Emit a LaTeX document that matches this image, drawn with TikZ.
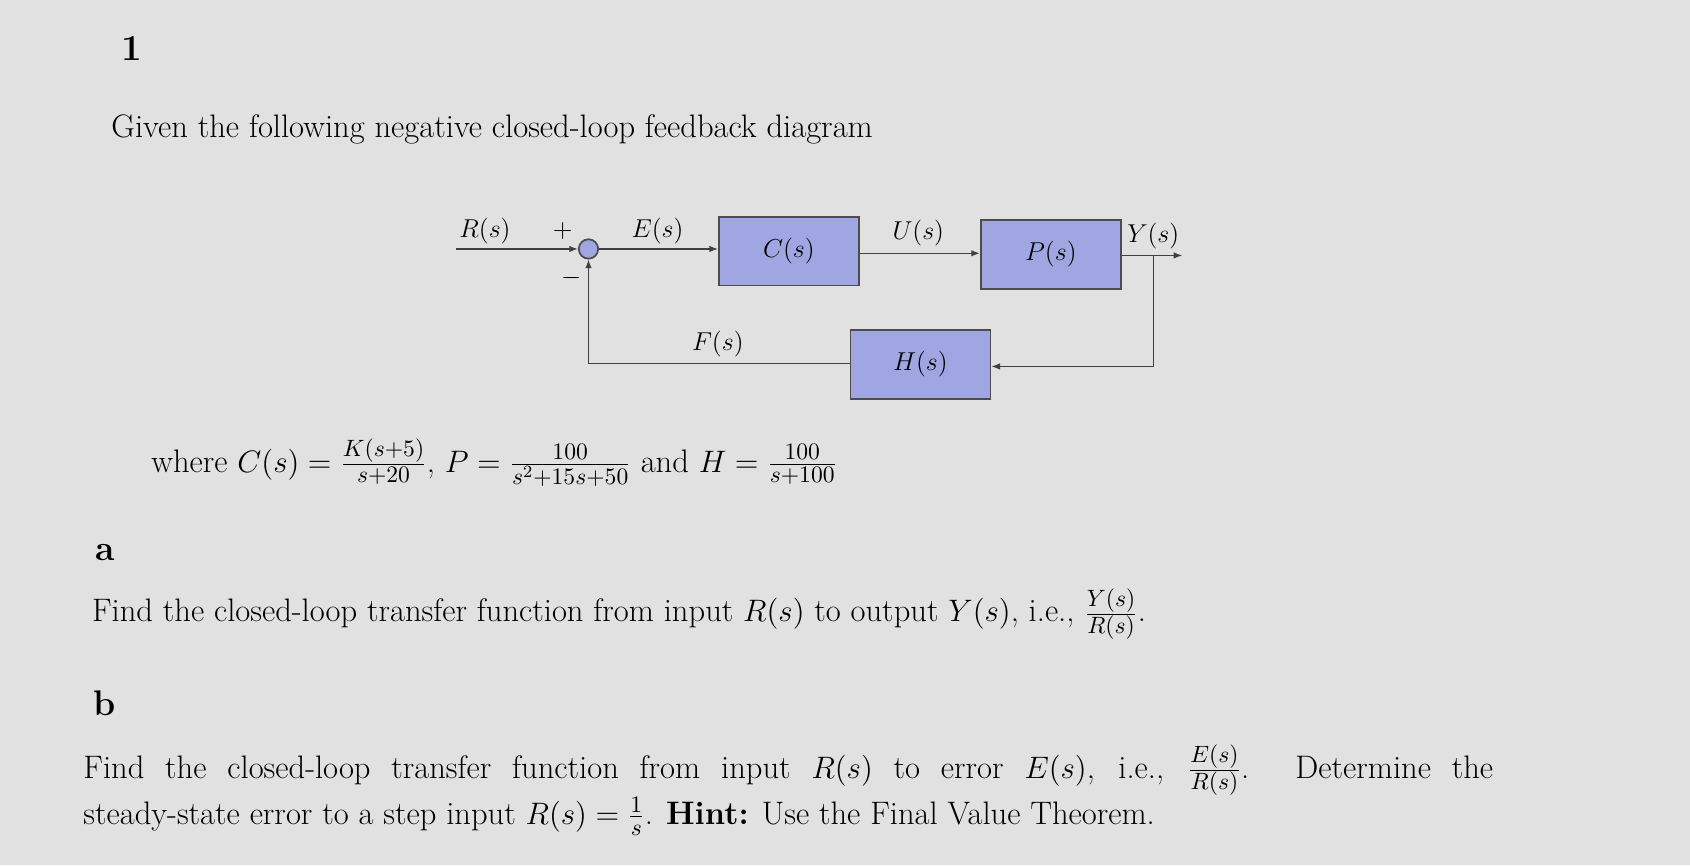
\documentclass[tikz,border=0pt]{standalone}
\usepackage{amsmath}
\usetikzlibrary{arrows.meta}
\definecolor{bgc}{RGB}{224,225,224}
\definecolor{boxc}{RGB}{160,166,226}
\begin{document}
\begin{tikzpicture}[x=0.5pt,y=-0.5pt,
  blk/.style={draw=black!70,fill=boxc,thick,minimum width=65pt,minimum height=32pt,inner sep=0pt,font=\large},
  lab/.style={font=\large,anchor=base},
  txt/.style={anchor=base west,inner sep=0pt,font=\fontsize{15.1}{18}\selectfont},
  ln/.style={draw=black!75,semithick},
  arr/.style={ln,-{Latex[length=4pt,width=3pt]}}]
\fill[bgc] (0,0) rectangle (1568,803);
\useasboundingbox (0,0) rectangle (1568,803);
\node[txt,font=\fontsize{17}{20}\selectfont\bfseries] (num) at (112,56) {1};
\node[txt] (given) at (103,128) {Given the following negative closed-loop feedback diagram};
% diagram
\coordinate (in) at (423,231);
\node[circle,draw=black!70,fill=boxc,thick,minimum size=9pt,inner sep=0pt] (sum) at (546,231) {};
\node[blk] (C) at (732,233) {$C(s)$};
\node[blk] (P) at (975,236) {$P(s)$};
\node[blk] (H) at (854,338) {$H(s)$};
\coordinate (tap) at (1070,237);
\coordinate (out) at (1097,237);
\draw[arr] (in) -- (sum.west);
\draw[arr] (sum.east) -- (sum.east -| C.west);
\draw[arr] (C.east |- 0,235) -- (P.west |- 0,235);
\draw[arr] (P.east |- tap) -- (out);
\draw[arr] (tap) -- (1070,340) -- (H.east |- 0,340);
\draw[arr] (H.west |- 0,337) -- (546,337) -- (sum.south);
\node[lab] (R) at (450,220) {$R(s)$};
\node[lab] (plus) at (522,220) {$+$};
\node[lab] (minus) at (530,264) {$-$};
\node[lab] (E) at (610,220) {$E(s)$};
\node[lab] (U) at (852,222) {$U(s)$};
\node[lab] (Y) at (1070,225) {$Y(s)$};
\node[lab] (F) at (666,325) {$F(s)$};
% text
\node[txt] (where) at (140,438) {where $C(s)=\frac{K(s+5)}{s+20}$, $P=\frac{100}{s^2+15s+50}$ and $H=\frac{100}{s+100}$};
\node[txt,font=\fontsize{16.5}{19}\selectfont\bfseries] (a) at (88,520) {a};
\node[txt] (qa) at (85,577) {Find the closed-loop transfer function from input $R(s)$ to output $Y(s)$, i.e., $\frac{Y(s)}{R(s)}$.};
\node[txt,font=\fontsize{16.5}{19}\selectfont\bfseries] (b) at (86,664) {b};
\node[txt] (qb1) at (77,722) {\makebox[654pt][s]{Find the closed-loop transfer function from input $R(s)$ to error $E(s)$, i.e., $\frac{E(s)}{R(s)}$. Determine the}};
\node[txt] (qb2) at (77,765) {steady-state error to a step input $R(s)=\frac{1}{s}$. \textbf{Hint:} Use the Final Value Theorem.};
\end{tikzpicture}
\end{document}
